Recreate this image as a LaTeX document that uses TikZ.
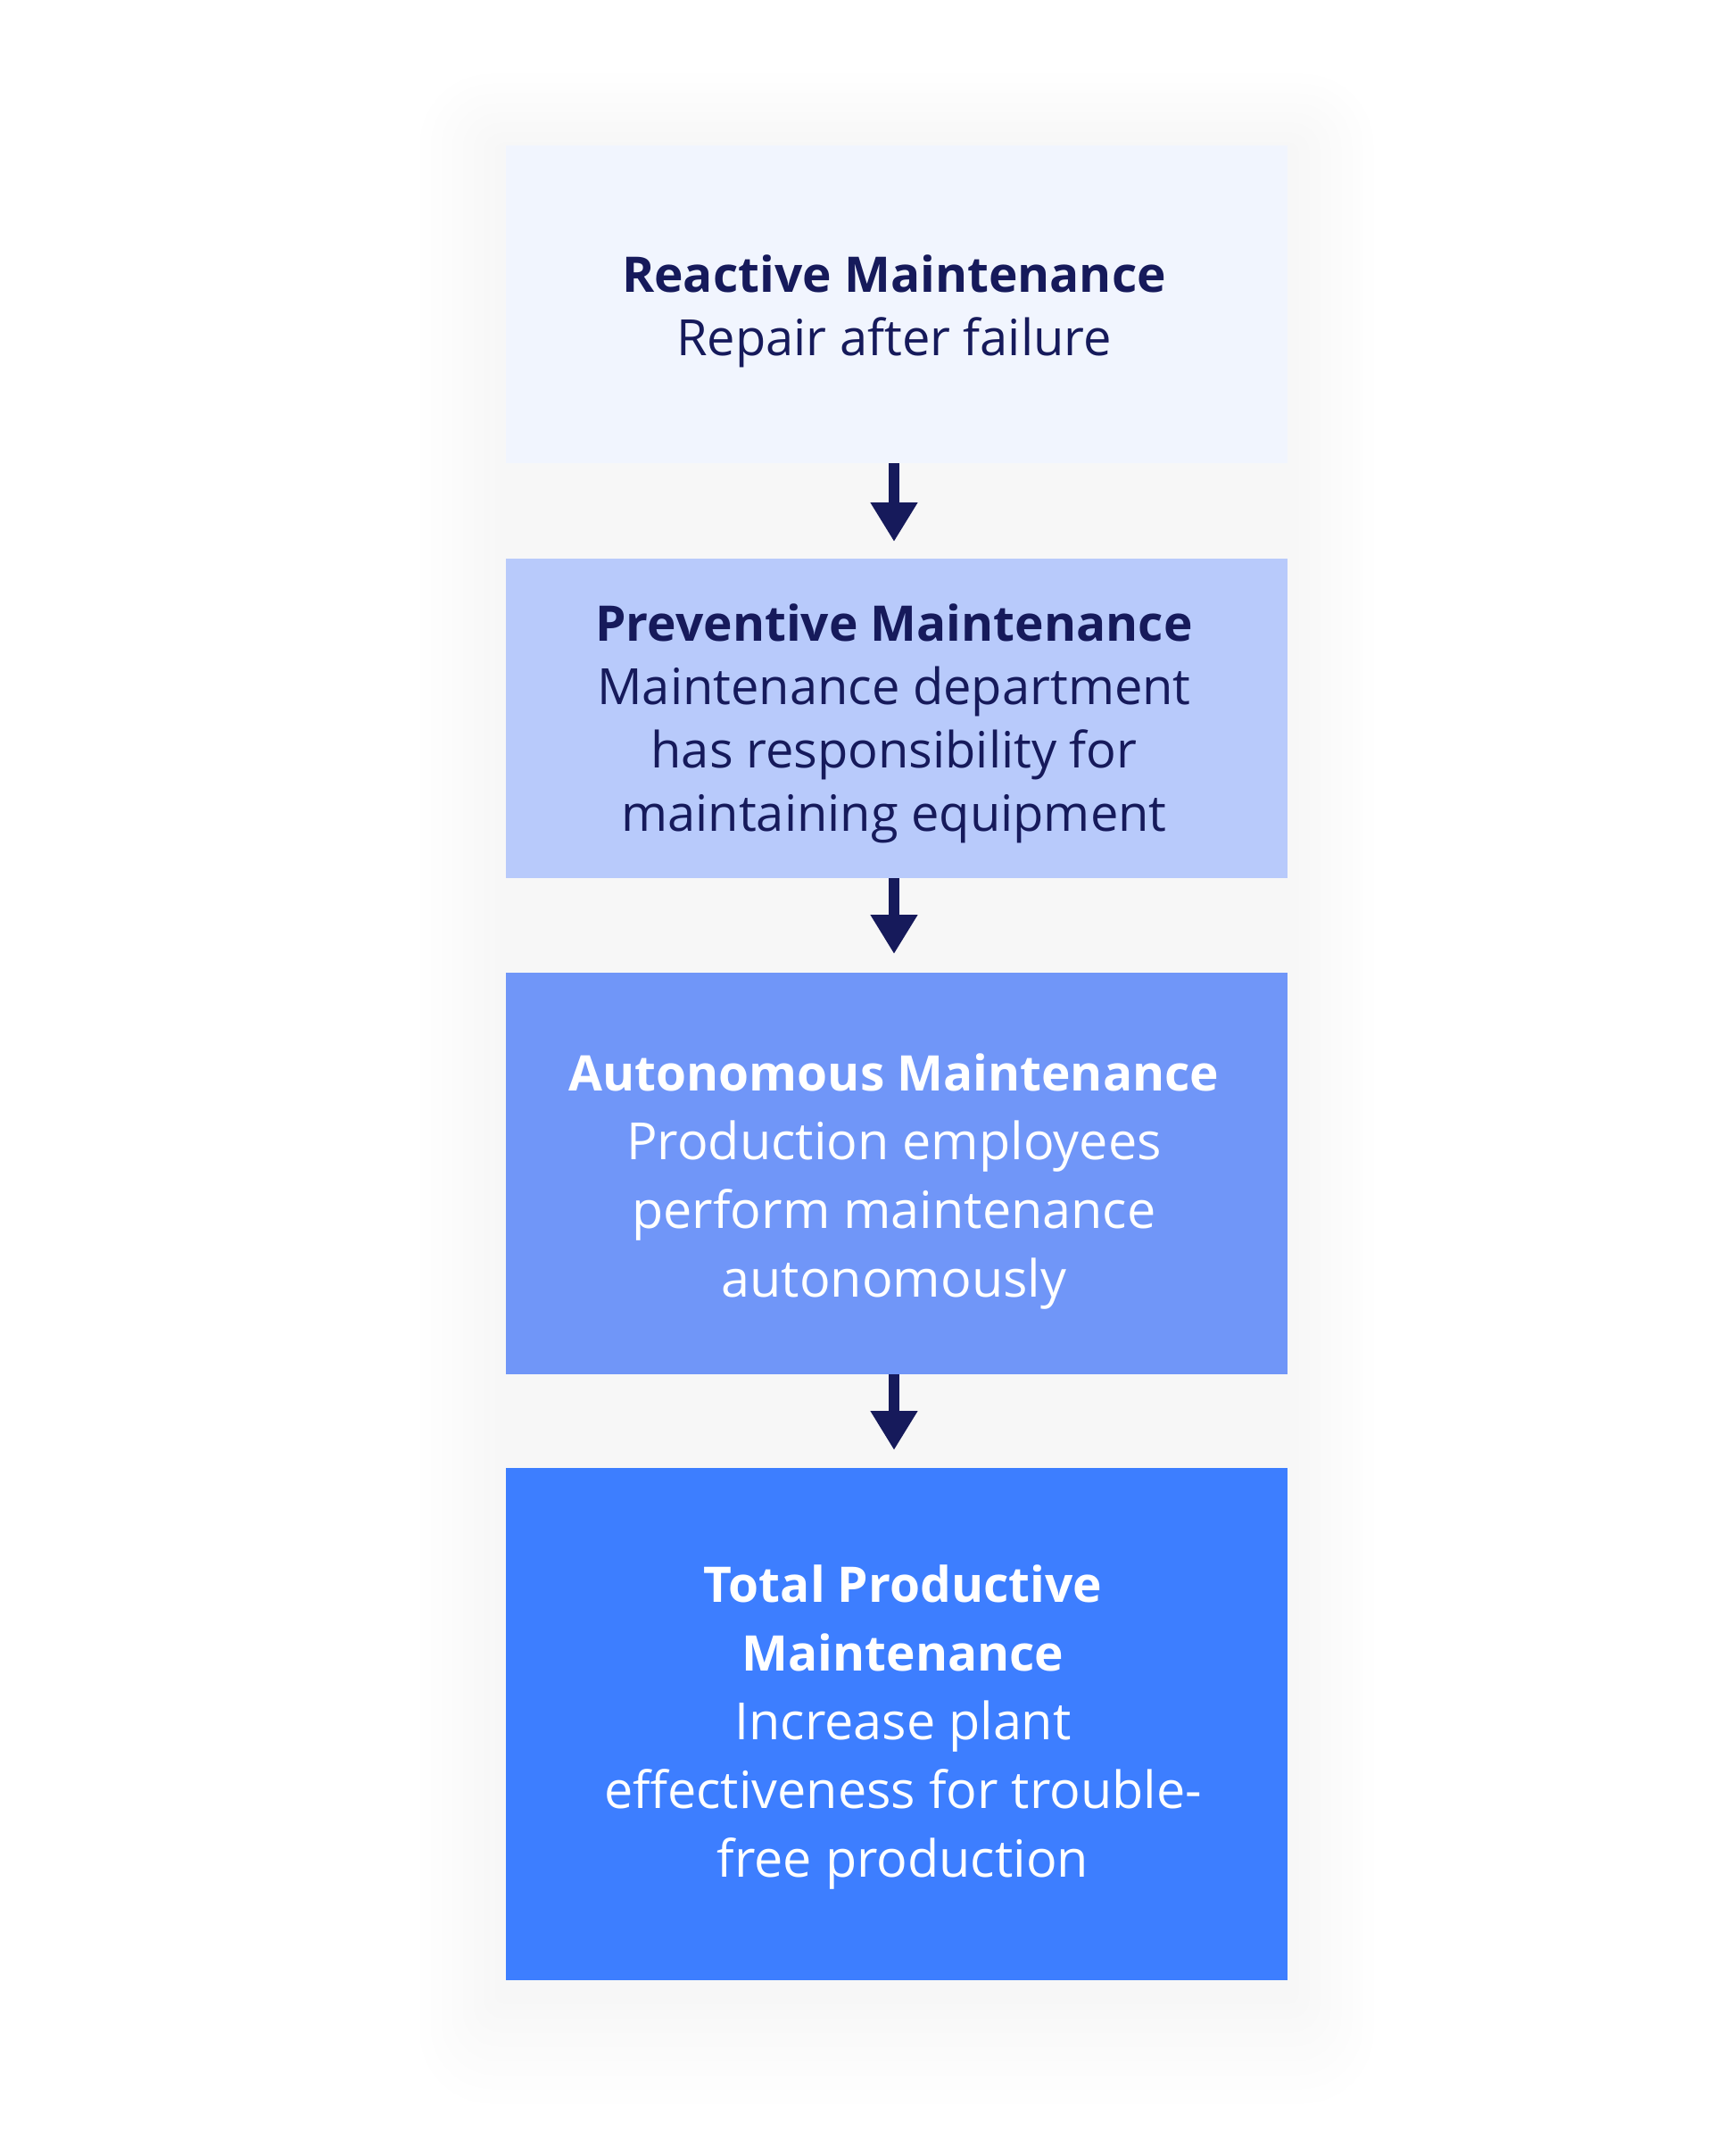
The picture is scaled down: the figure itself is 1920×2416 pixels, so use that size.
\documentclass[tikz,border=0pt]{standalone}
\usepackage{fontspec}
\setmainfont{Open Sans}
\usetikzlibrary{arrows.meta}
\definecolor{navy}{HTML}{161A5B}
\definecolor{cA}{HTML}{F1F5FE}
\definecolor{cB}{HTML}{B8CAFB}
\definecolor{cC}{HTML}{7096F8}
\definecolor{cD}{HTML}{3D7EFF}
\newcommand{\hbA}[1]{{\fontsize{55}{71}\selectfont\bfseries #1}}
\newcommand{\hbB}[1]{{\fontsize{55}{77}\selectfont\bfseries #1}}
\begin{document}
\begin{tikzpicture}[x=1pt,y=-1pt,
  box/.style={rectangle, minimum width=876pt, inner sep=0pt, outer sep=0pt, align=center},
  small/.style={font=\fontsize{56}{71}\selectfont, text=navy},
  big/.style={font=\fontsize{57.5}{77}\selectfont, text=white},
  arr/.style={draw=navy, line width=12pt, -{Triangle[width=50pt,length=44pt]}}
]
\useasboundingbox[fill=white] (0,0) rectangle (1920,2416);
\foreach \k in {16,...,1}{
  \pgfmathsetmacro{\shade}{(17-\k)*0.2}
  \fill[black!\shade, rounded corners=\k*5pt] (567-\k*6, 171-\k*5.5) rectangle (1443+\k*6, 2229+\k*8);
}
\node[box, fill=cA, minimum height=356pt] (b1) at (1005,341) {};
\node[box, fill=cB, minimum height=358pt] (b2) at (1005,805) {};
\node[box, fill=cC, minimum height=450pt] (b3) at (1005,1315) {};
\node[box, fill=cD, minimum height=574pt] (b4) at (1005,1932) {};
\node[small, align=center] (t1) at (1002,349) {\hbA{Reactive Maintenance}\\Repair after failure};
\node[small, align=center] (t2) at (1002,811) {\hbA{Preventive Maintenance}\\Maintenance department\\has responsibility for\\maintaining equipment};
\node[big, align=center] (t3) at (1002,1324) {\hbB{Autonomous Maintenance}\\Production employees\\perform maintenance\\autonomously};
\node[big, align=center] (t4) at (1012,1935) {\hbB{Total Productive}\\\hbB{Maintenance}\\Increase plant\\effectiveness for trouble-\\free production};
\coordinate (a1) at (1002,519);
\coordinate (e1) at (1002,607);
\coordinate (a2) at (1002,984);
\coordinate (e2) at (1002,1069);
\coordinate (a3) at (1002,1540);
\coordinate (e3) at (1002,1625);
\draw[arr] (a1) -- (e1);
\draw[arr] (a2) -- (e2);
\draw[arr] (a3) -- (e3);
\end{tikzpicture}
\end{document}
